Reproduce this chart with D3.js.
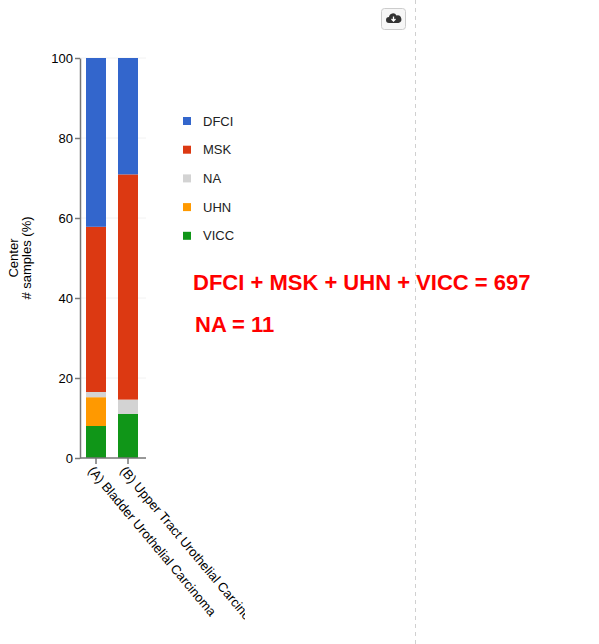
<!DOCTYPE html>
<html>
<head>
<meta charset="utf-8">
<script src="https://cdn.jsdelivr.net/npm/d3@7"></script>
<style>
  body { margin: 0; background: #fff; }
  svg { font-family: "Liberation Sans", Arial, sans-serif; }
</style>
</head>
<body>
<div id="chart"></div>
<script>
var categories = ["(A) Bladder Urothelial Carcinoma", "(B) Upper Tract Urothelial Carcinoma"];
var centers = ["DFCI", "MSK", "NA", "UHN", "VICC"];
var colors = ["#3366cc", "#dc3912", "#d3d3d3", "#ff9900", "#109618"];
// percent of samples per center, one entry per category
var dfci = [42.2, 29.1];
var msk  = [41.3, 56.3];
var na   = [1.3, 3.6];
var uhn  = [7.2, 0];
var vicc = [8.0, 11.0];
var yTicks = [0, 20, 40, 60, 80, 100];
var notes = ["DFCI + MSK + UHN + VICC = 697", "NA = 11"];

var width = 599,
    height = 644;

var svg = d3.select("#chart").append("svg")
    .attr("width", width)
    .attr("height", height);

var rows = categories.map(function(c, i) {
  return { cat: c, DFCI: dfci[i], MSK: msk[i], NA: na[i], UHN: uhn[i], VICC: vicc[i] };
});

// bottom to top: VICC, UHN, NA, MSK, DFCI
var stack = d3.stack().keys(centers.slice().reverse());
var series = stack(rows);

var color = d3.scaleOrdinal().domain(centers).range(colors);

var x = d3.scaleBand()
    .domain(categories)
    .range([80, 144])
    .paddingInner(0.375)
    .paddingOuter(0.1875);

var y = d3.scaleLinear()
    .domain([0, 100])
    .range([458, 58]);

// grid
svg.append("g")
  .selectAll("line")
  .data(yTicks)
  .enter().append("line")
    .attr("x1", 80)
    .attr("x2", 146)
    .attr("y1", function(d) { return y(d); })
    .attr("y2", function(d) { return y(d); })
    .attr("stroke", "#f2f2f2");

// bars
svg.append("g")
  .selectAll("g")
  .data(series)
  .enter().append("g")
    .attr("fill", function(d) { return color(d.key); })
  .selectAll("rect")
  .data(function(d) { return d; })
  .enter().append("rect")
    .attr("x", function(d) { return x(d.data.cat); })
    .attr("width", x.bandwidth())
    .attr("y", function(d) { return y(d[1]); })
    .attr("height", function(d) { return y(d[0]) - y(d[1]); });

// y axis
var yAxis = svg.append("g")
    .attr("transform", "translate(80,0)")
    .call(d3.axisLeft(y).tickValues(yTicks).tickSize(5).tickPadding(2).tickSizeOuter(0));
yAxis.select(".domain").attr("stroke", "#777").attr("stroke-width", 1.5);
yAxis.selectAll(".tick line").attr("stroke", "#777").attr("stroke-width", 1.5);
yAxis.selectAll(".tick text")
    .attr("font-size", 13)
    .attr("fill", "#000")
    .attr("font-family", "Liberation Sans, Arial, sans-serif");

// x axis
svg.append("defs").append("clipPath")
    .attr("id", "xclip")
  .append("rect")
    .attr("x", 0).attr("y", 459)
    .attr("width", 245).attr("height", 185);

var xAxis = svg.append("g")
    .attr("transform", "translate(0,458)")
    .call(d3.axisBottom(x).tickSize(6).tickSizeOuter(0));
xAxis.select(".domain").attr("d", "M80,0H146").attr("stroke", "#777").attr("stroke-width", 1.5);
xAxis.selectAll(".tick line").attr("stroke", "#777").attr("stroke-width", 1.5);
xAxis.selectAll(".tick text")
    .attr("font-size", 13)
    .attr("fill", "#000")
    .attr("font-family", "Liberation Sans, Arial, sans-serif")
    .attr("text-anchor", "start")
    .attr("dy", "0.35em")
    .attr("transform", "translate(-5,10) rotate(50)")
    .attr("x", 0)
    .attr("y", 0);

// clip the labels to the chart area
var labelGroup = svg.append("g").attr("clip-path", "url(#xclip)");
xAxis.selectAll(".tick text").each(function() {
  var tr = this.parentNode.getAttribute("transform");
  var g = labelGroup.append("g").attr("transform", "translate(0,458) " + tr);
  g.node().appendChild(this);
});

// y axis title
var title = svg.append("text")
    .attr("transform", "translate(0,258) rotate(-90)")
    .attr("text-anchor", "middle")
    .attr("font-size", 13)
    .attr("fill", "#000");
title.append("tspan").attr("x", 0).attr("y", 18).text("Center");
title.append("tspan").attr("x", 0).attr("y", 31).text("# samples (%)");

// legend
var legend = svg.append("g")
  .selectAll("g")
  .data(centers)
  .enter().append("g")
    .attr("transform", function(d, i) { return "translate(183," + (121 + i * 28.7) + ")"; });
legend.append("rect")
    .attr("x", 0).attr("y", -4)
    .attr("width", 8).attr("height", 8)
    .attr("fill", function(d) { return color(d); });
legend.append("text")
    .attr("x", 20)
    .attr("dy", "0.35em")
    .attr("font-size", 13)
    .attr("fill", "#222")
    .text(function(d) { return d; });

// dashed divider
svg.append("line")
    .attr("x1", 415.5).attr("x2", 415.5)
    .attr("y1", 0).attr("y2", height)
    .attr("stroke", "#d0d0d0")
    .attr("stroke-dasharray", "4,4");

// annotations
svg.append("g")
  .selectAll("text")
  .data(notes)
  .enter().append("text")
    .attr("x", function(d, i) { return i ? 195 : 193; })
    .attr("y", function(d, i) { return 290 + i * 42; })
    .attr("font-size", 22)
    .attr("font-weight", "bold")
    .attr("fill", "#ff0000")
    .text(function(d) { return d; });

// download button
var btn = svg.append("g").attr("transform", "translate(381,8)");
btn.append("rect")
    .attr("x", 0.5).attr("y", 0.5)
    .attr("width", 24).attr("height", 21)
    .attr("rx", 3)
    .attr("fill", "#f7f7f7")
    .attr("stroke", "#ccc");
btn.append("path")
    .attr("d", "M8,15 a3,3 0 0 1 0,-6 a4,4 0 0 1 7.5,-1.5 a3,3 0 0 1 2,7.5 z")
    .attr("fill", "#333");
btn.append("path")
    .attr("d", "M12.5,8.5 v4 M10.5,11 l2,2 l2,-2")
    .attr("stroke", "#fff")
    .attr("stroke-width", 1.3)
    .attr("fill", "none");
</script>
</body>
</html>
